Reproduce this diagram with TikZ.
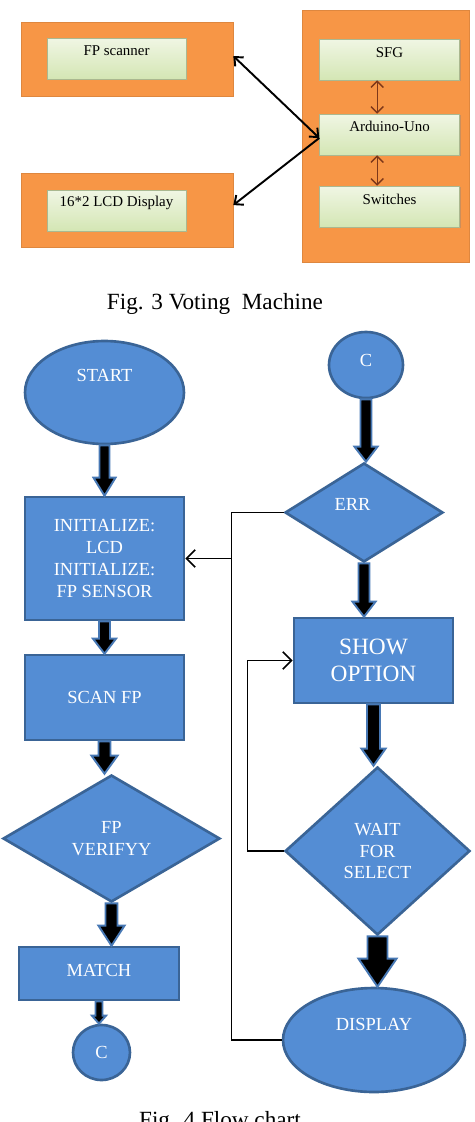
\documentclass[tikz,border=0pt]{standalone}
\usepackage{fontspec}
\setmainfont{Liberation Serif}
\usetikzlibrary{shapes.geometric,calc,arrows.meta,shadows}

\definecolor{boxorange}{RGB}{247,150,70}
\definecolor{boxgreenA}{RGB}{240,246,228}
\definecolor{boxgreenB}{RGB}{212,230,180}
\definecolor{flowblue}{RGB}{84,141,212}
\definecolor{flowedge}{RGB}{58,100,150}
\definecolor{arrowbrown}{RGB}{125,55,25}

\newcommand{\txtup}[2]{\raisebox{#1}[\height][\depth]{#2}}
\newcommand{\blk}[5]{%
	\draw[blkarrow] ($(#1)+(-#3,0)$) -- ($(#1 |- #2)+(-#3,-#5)$) -- ($(#1 |- #2)+(-#4,-#5)$)
		-- (#1 |- #2) -- ($(#1 |- #2)+(#4,-#5)$) -- ($(#1 |- #2)+(#3,-#5)$) -- ($(#1)+(#3,0)$) -- cycle;}

\begin{document}
\begin{tikzpicture}[x=0.02cm,y=-0.02cm,
	outerbox/.style={fill=boxorange,draw=boxorange!90!black,line width=0.4pt,inner sep=0},
	innerbox/.style={top color=boxgreenA,bottom color=boxgreenB,draw=boxgreenB!80!black,line width=0.3pt,
		drop shadow={shadow xshift=0.8pt,shadow yshift=-0.8pt,opacity=0.35},
		minimum width=2.8cm,minimum height=0.82cm,inner sep=0,font=\fontsize{8.5}{10}\selectfont},
	flow/.style={fill=flowblue,draw=flowedge,line width=1.5pt,text=white,inner sep=0,
		font=\fontsize{10.5}{12.5}\selectfont,align=center},
	blkarrow/.style={fill=black,draw=flowblue!85!black,line width=1.1pt},
	link/.style={line width=1.1pt},
	brownlink/.style={draw=arrowbrown,line width=0.8pt,{Straight Barb[length=3.5pt,width=7pt]}-{Straight Barb[length=3.5pt,width=7pt]}},
	conn/.style={line width=0.9pt},
	barb/.tip={Straight Barb[length=5pt,width=10pt]},
	smallbarb/.tip={Straight Barb[length=4pt,width=7pt]}]

			\fill[white] (0,0) rectangle (474,1122);
			\useasboundingbox (0,0) rectangle (474,1122);

			% VOTING MACHINE
			\node[outerbox,minimum width=4.24cm,minimum height=1.48cm] (FPO) at (127,59) {};
			\node[innerbox,minimum width=2.78cm] (FP) at (116.5,58.5) {\txtup{4.5pt}{FP scanner}};
			\node[outerbox,minimum width=4.24cm,minimum height=1.48cm] (LCDO) at (127,210) {};
			\node[innerbox,minimum width=2.78cm] (LCD) at (116.5,210.5) {\txtup{4.5pt}{16*2 LCD Display}};
			\node[outerbox,minimum width=3.34cm,minimum height=5.04cm] (ARO) at (385.5,136) {};
			\node[innerbox] (SFG) at (389.5,59.5) {\txtup{4pt}{SFG}};
			\node[innerbox] (ARD) at (389.5,134.5) {\txtup{4.5pt}{Arduino-Uno}};
			\node[innerbox] (SW) at (389.5,206.5) {\txtup{4pt}{Switches}};

			\draw[link,smallbarb-smallbarb] ([yshift=1.7pt]FPO.east) -- ([yshift=-2pt]ARD.west);
			\draw[link,-smallbarb] ([yshift=-2pt]ARD.west) -- ([yshift=2.8pt]LCDO.east);
			\draw[brownlink] ([xshift=-7pt]SFG.south) -- ([xshift=-7pt]ARD.north);
			\draw[brownlink] ([xshift=-7pt]ARD.south) -- ([xshift=-7pt]SW.north);

			\node[font=\fontsize{13.2}{15}\selectfont,anchor=base] (CAP3) at (215,309) {Fig. 3 Voting\ \ Machine};

			% FLOW CHART
			\node[flow,ellipse,minimum width=3.18cm,minimum height=2.06cm] (START) at (104.5,392.5) {\txtup{9.9pt}{START}};
			\node[flow,minimum width=3.18cm,minimum height=2.46cm] (INIT) at (104.5,558.5) {INITIALIZE:\\LCD\\INITIALIZE:\\FP SENSOR};
			\node[flow,minimum width=3.18cm,minimum height=1.70cm] (SCAN) at (104.5,697.5) {SCAN FP};
			\node[flow,diamond,aspect=1,minimum width=4.34cm,minimum height=2.54cm] (VER) at (111.5,838.5) {FP\\VERIFYY};
			\node[flow,minimum width=3.2cm,minimum height=1.06cm] (MATCH) at (99,973.5) {\txtup{2pt}{MATCH}};
			\node[flow,ellipse,minimum width=1.14cm,minimum height=1.10cm] (CB) at (101.5,1052.5) {C};

			\node[flow,ellipse,minimum width=1.48cm,minimum height=1.32cm] (CT) at (366,365) {\txtup{2.3pt}{C}};
			\node[flow,diamond,aspect=1,minimum width=3.16cm,minimum height=1.98cm] (ERR) at (364,512.5) {\txtup{4.5pt}{ERR\hspace{13pt}}};
			\node[flow,minimum width=3.18cm,minimum height=1.70cm,font=\fontsize{13.3}{15.3}\selectfont] (SHOW) at (373.5,660.5) {SHOW\\OPTION};
			\node[flow,diamond,aspect=1,minimum width=3.70cm,minimum height=3.36cm] (WAIT) at (377.5,851) {WAIT\\FOR\\SELECT};
			\node[flow,ellipse,minimum width=3.64cm,minimum height=2.08cm] (DISP) at (374,1040) {\txtup{8.8pt}{DISPLAY}};

			\blk{START.south}{INIT.north}{5}{11}{18}
			\blk{INIT.south}{SCAN.north}{5.5}{11.5}{15}
			\blk{SCAN.south}{VER.north}{6}{13}{18}
			\blk{VER.south}{MATCH.north}{6}{13}{20}
			\blk{MATCH.south}{CB.north}{3.5}{7}{8}
			\blk{CT.south}{ERR.north}{5.5}{11.5}{15}
			\blk{ERR.south}{SHOW.north}{5.5}{11.5}{15}
			\blk{SHOW.south}{WAIT.north}{6.5}{12}{17}
			\blk{WAIT.south}{DISP.north}{10}{19}{28}

			\draw[conn] (ERR.west) -- ++(-52,0) coordinate (bus) |- (DISP.west);
			\draw[conn,-barb] (bus |- INIT.east) -- (INIT.east);
			\draw[conn,-barb] (WAIT.west) -- ++(-36,0) |- (SHOW.west);

			\node[font=\fontsize{13.2}{15}\selectfont,anchor=base] (CAP4) at (220,1127) {Fig. 4 Flow chart};
		\end{tikzpicture}
\end{document}
